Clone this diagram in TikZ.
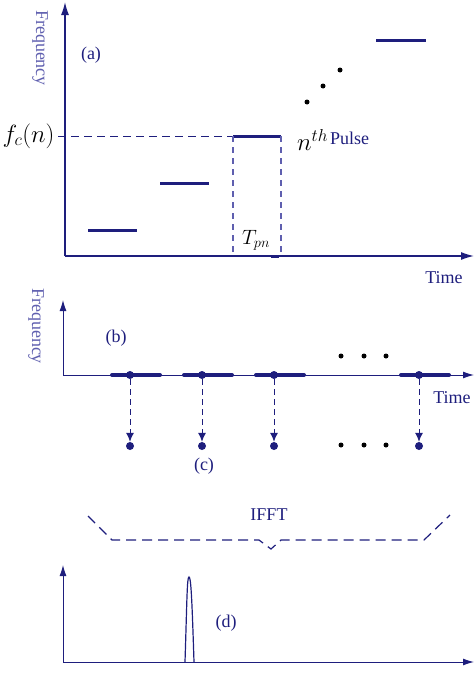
\documentclass[tikz,border=0pt]{standalone}
\usepackage{fontspec}
\setmainfont{Liberation Serif}
\usetikzlibrary{positioning}
\usetikzlibrary{arrows.meta}
\definecolor{navy}{RGB}{30,30,125}
\definecolor{paleblue}{RGB}{95,95,175}

\begin{document}
\begin{tikzpicture}[x=1pt,y=-1pt,
	axis/.style={navy,line width=1.3pt,-{Latex[length=13pt,width=8pt]}},
	smallaxis/.style={navy,line width=1pt,-{Latex[length=11pt,width=7pt]}},
	pulse/.style={navy,line width=3pt},
	chip/.style={navy,line width=4pt,line cap=round},
	guide/.style={paleblue,line width=1.2pt,dash pattern=on 6pt off 5pt},
	lbl/.style={navy,font=\fontsize{18}{20}\selectfont},
	freqlbl/.style={paleblue,rotate=-90,font=\fontsize{18}{20}\selectfont},
	bdot/.style={circle,fill=navy,inner sep=0pt,minimum size=8pt},
	kdot/.style={circle,fill=black,inner sep=0pt,minimum size=5pt}]
	\useasboundingbox (0,0) rectangle (474,696);
	\coordinate (oa) at (65,256);
	\coordinate (ya) at (65,2);
	\coordinate (xa) at (474,256);
	\draw[axis] (oa) -- (ya);
	\draw[axis] (oa) -- (xa);
	\node[freqlbl] (freqa) at (40,48) {Frequency};
	\node[lbl] (taga) at (91,55) {(a)};
	\draw[pulse] (88,230) -- (137,230);
	\draw[pulse] (160,183) -- (209,183);
	\draw[pulse] (233,136) coordinate (pa) -- (281,136) coordinate (pb);
	\draw[pulse] (376,40) -- (426,40);
	\draw[navy,line width=2pt] (271,257) -- (279,257);
	\node[kdot] (da1) at (307,102) {};
	\node[kdot] (da2) at (323,86) {};
	\node[kdot] (da3) at (340,70) {};
	\node[anchor=east,font=\fontsize{24}{26}\selectfont] (fcn) at (58,136) {$f_c(n)$};
	\draw[navy,line width=1pt,dash pattern=on 8pt off 5pt] (fcn.east) -- (pa);
	\draw[guide] (pa) -- (233,256);
	\draw[guide] (pb) -- (281,256);
	\node[anchor=west,inner sep=0pt,font=\fontsize{26}{28}\selectfont] (nth) at (297,140) {$n^{th}$};
	\node[lbl,anchor=west,inner sep=0pt] (pulse) at (330,138) {Pulse};
	\node[font=\fontsize{20}{22}\selectfont] (tpn) at (256,240) {$T_{pn}$};
	\node[lbl] (timea) at (444,278) {Time};
	\coordinate (ob) at (63,375);
	\coordinate (yb) at (63,300);
	\coordinate (xb) at (474,375);
	\draw[smallaxis] (ob) -- (yb);
	\draw[smallaxis] (ob) -- (xb);
	\node[freqlbl] (freqb) at (36,326) {Frequency};
	\node[lbl] (tagb) at (116,338) {(b)};
	\node[lbl] (timeb) at (452,398) {Time};
	\foreach \cx/\i in {136/1,208/2,280/3,425/4}{
		\draw[chip] (\cx-24,375) -- (\cx+24,375);
		\node[bdot] (s\i) at (\cx-6,375) {};
		\node[bdot] (c\i) at (\cx-6,446) {};
		\draw[navy,line width=1pt,dash pattern=on 6pt off 4pt,-{Latex[length=9pt,width=8pt]}] (s\i) -- (c\i.north);
	}
	\foreach \cx/\i in {341/1,364/2,386/3}{
		\node[kdot] (db\i) at (\cx,356) {};
		\node[kdot] (dc\i) at (\cx,445) {};
	}
	\node[lbl] (tagc) at (204,466) {(c)};
	\node[lbl] (ifft) at (269,515) {IFFT};
	\coordinate (bl) at (88,516);
	\coordinate (br) at (450,515);
	\draw[navy,line width=1.2pt,dash pattern=on 10pt off 6pt] (bl) -- (112,540) -- (259,540) -- (271,549) -- (281,540) -- (424,540) -- (br);
	\coordinate (od) at (63,662);
	\coordinate (yd) at (63,565);
	\coordinate (xd) at (474,662);
	\draw[smallaxis] (od) -- (yd);
	\draw[smallaxis] (od) -- (xd);
	\draw[navy,line width=1.2pt] (185,662) .. controls (187,600) and (187,577) .. (189,577) .. controls (191,577) and (192,600) .. (194,662);
	\node[lbl] (tagd) at (226,623) {(d)};
\end{tikzpicture}
\end{document}
